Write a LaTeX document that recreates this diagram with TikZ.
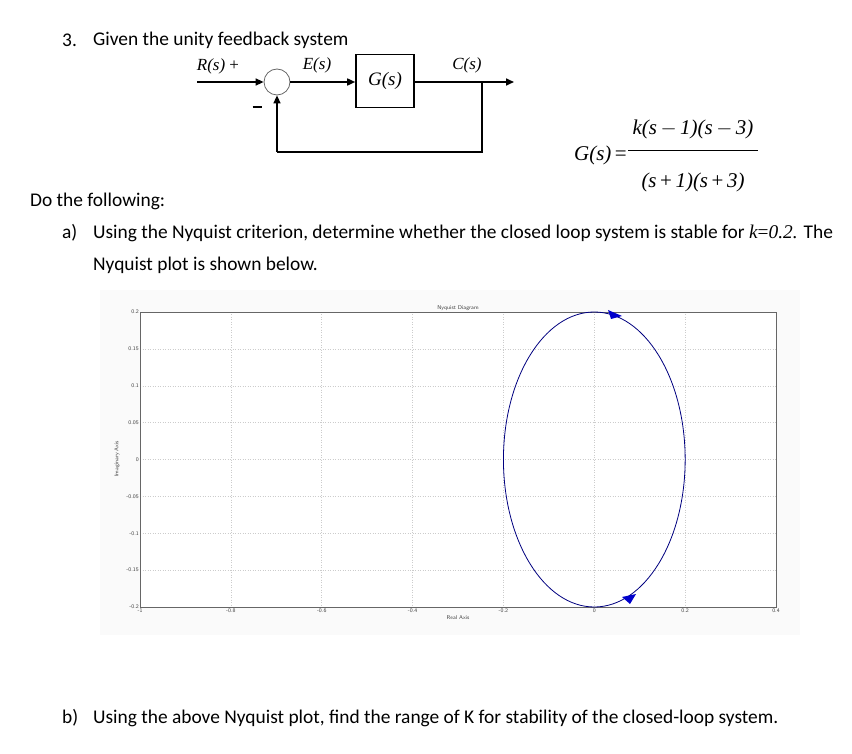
\documentclass[tikz,border=0pt]{standalone}
\usepackage{fontspec}
\setmainfont{Carlito}
\newfontfamily\tms{Liberation Serif}
\usetikzlibrary{arrows.meta}
\begin{document}
\begin{tikzpicture}[x=1pt,y=-1pt,
  txt/.style={anchor=west,font=\fontsize{19.4}{22}\selectfont,inner sep=0},
  sig/.style={font=\tms\itshape\fontsize{17}{19}\selectfont,inner sep=0},
  wire/.style={line width=1.6pt},
  arr/.style={wire,-{Triangle[length=8pt,width=7pt]}},
  tick/.style={font=\sffamily\fontsize{5.5}{6}\selectfont,inner sep=1pt,text=black!75},
  grid/.style={black!20,dotted,line width=0.5pt}]
\useasboundingbox (0,0) rectangle (852,754);
% text
\node[txt] (n3) at (62,40) {3.};
\node[txt] (t1) at (93,40) {Given the unity feedback system};
\node[txt] (t2) at (30,201) {Do the following:};
\node[txt] (a) at (62,233) {a)};
\node[txt] (t3) at (93,233) {Using the Nyquist criterion, determine whether the closed loop system is stable for {\tms\itshape k}{\tms=}{\tms\itshape 0.2.} The};
\node[txt] (t4) at (93,265) {Nyquist plot is shown below.};
\node[txt] (b) at (62,718) {b)};
\node[txt] (t5) at (93,718) {Using the above Nyquist plot, find the range of K for stability of the closed-loop system.};
% block diagram
\coordinate (in) at (197,82);
\node[circle,draw=black!60,line width=0.8pt,minimum size=26pt,inner sep=0] (sum) at (277,82) {};
\node[draw,line width=1.6pt,minimum width=58pt,minimum height=53pt,sig] (G) at (385,81) {\fontsize{19}{22}\selectfont G(s)};
\coordinate (out) at (514,82);
\coordinate (br) at (482,82);
\coordinate (fb1) at (482,152);
\coordinate (fb2) at (277,152);
\draw[arr] (in) -- (sum.west);
\draw[arr] (sum.east) -- (G.west|-sum);
\draw[arr] (G.east|-br) -- (out);
\draw[wire] (br) -- (fb1) -- (fb2);
\draw[arr] (fb2) -- (sum.south);
\node[sig] (R) at (218,66) {R(s) \upshape+};
\node[sig] (E) at (317,65) {E(s)};
\node[sig] (C) at (467,65) {C(s)};
\node[inner sep=0] (minus) at (257,107) {\rule{9pt}{1.4pt}};
% formula
\node[sig,anchor=east] (Geq) at (627,155) {\fontsize{21}{24}\selectfont G(s)\upshape\,=};
\node[sig] (num) at (693,129) {\fontsize{21}{24}\selectfont k(s\,\upshape$-$\,\itshape1)(s\,\upshape$-$\,\itshape3)};
\node[sig] (den) at (693,182) {\fontsize{21}{24}\selectfont (s\,\upshape+\,\itshape1)(s\,\upshape+\,\itshape3)};
\draw[line width=1pt] (628,151) -- (758,151);
% plot background
\fill[black!2] (100,290) rectangle (800,635);
\fill[white] (140,312) rectangle (776,607);
\foreach \i in {1,...,6} \draw[grid] (140+\i*90.86,312) -- (140+\i*90.86,607);
\foreach \j in {1,...,7} \draw[grid] (140,312+\j*36.875) -- (776,312+\j*36.875);
\draw[black!60,line width=0.5pt] (140,312) rectangle (776,607);
\foreach \v [count=\i from 0] in {-1,-0.8,-0.6,-0.4,-0.2,0,0.2,0.4}
  \node[tick,anchor=north] (xt\i) at (140+\i*90.86,608) {\v};
\foreach \v [count=\j from 0] in {0.2,0.15,0.1,0.05,0,-0.05,-0.1,-0.15,-0.2}
  \node[tick,anchor=east] (yt\j) at (140,312+\j*36.875) {\v};
\node[tick] (title) at (458,308) {Nyquist Diagram};
\node[tick] (xl) at (458,618) {Real Axis};
\node[tick,rotate=90] (yl) at (117,459) {Imaginary Axis};
\draw[blue!50!black,line width=0.8pt] (594.3,459.5) ellipse [x radius=90.86, y radius=147.5];
\fill[blue!80!black] (622,316) -- (608,310) -- (611,319) -- cycle;
\fill[blue!80!black] (622,597) -- (636,594) -- (630,604) -- cycle;
\end{tikzpicture}
\end{document}
